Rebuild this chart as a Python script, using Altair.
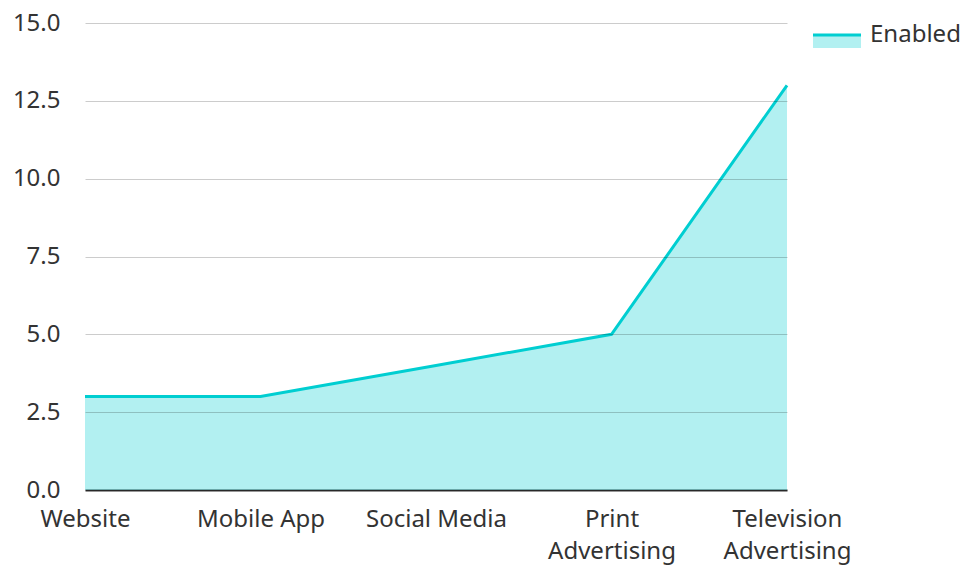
import altair as alt
import pandas as pd

categories = ["Website", "Mobile App", "Social Media", "Print Advertising", "Television Advertising"]
values = [3, 3, 4, 5, 13]
series_name = "Enabled"
y_ticks = [0, 2.5, 5, 7.5, 10, 12.5, 15]

df = pd.DataFrame({"channel": categories, "value": values})

LINE = "#00CED1"
FONT = "Noto Sans"
FS = 24

x = alt.X("channel:N", sort=categories, title=None,
          scale=alt.Scale(type="point", padding=0),
          axis=alt.Axis(labelAngle=0, labelFontSize=FS, labelFont=FONT, labelColor="#333",
                        ticks=False, tickSize=0, labelPadding=17, labelLineHeight=32,
                        domainColor="#333", domainWidth=2, grid=False,
                        labelExpr="indexof(datum.label, 'Advertising') > 0 ? split(datum.label, ' ') : datum.label"))
y = alt.Y("value:Q", title=None, scale=alt.Scale(domain=[0, 15], nice=False),
          axis=alt.Axis(values=y_ticks, format=".1f", labelFontSize=FS, labelFont=FONT,
                        labelColor="#333", ticks=False, domain=False, labelPadding=25,
                        gridColor="#000", gridOpacity=0.2, gridWidth=1, zindex=1))

area = alt.Chart(df).mark_area(color=LINE, opacity=0.3).encode(x=x, y=y)
line = alt.Chart(df).mark_line(color=LINE, strokeWidth=3).encode(x=x, y=y)

leg_df = pd.DataFrame({"name": [series_name]})
leg_rect = alt.Chart(leg_df).mark_rect(color=LINE, opacity=0.3).encode(
    x=alt.value(728), x2=alt.value(776), y=alt.value(12), y2=alt.value(25))
leg_line = alt.Chart(leg_df).mark_rule(color=LINE, strokeWidth=3).encode(
    x=alt.value(728), x2=alt.value(776), y=alt.value(12))
leg_text = alt.Chart(leg_df).mark_text(align="left", baseline="middle", fontSize=FS, font=FONT,
                                       color="#333").encode(
    x=alt.value(785), y=alt.value(12), text="name:N")

chart = alt.layer(area, line, leg_rect, leg_line, leg_text).properties(
    width=702, height=467,
    autosize=alt.AutoSizeParams(type="none"),
    padding={"left": 77, "top": 15, "right": 173, "bottom": 76},
).configure_view(stroke=None)

chart.save("out.html", embed_options={"renderer": "svg", "actions": False})
